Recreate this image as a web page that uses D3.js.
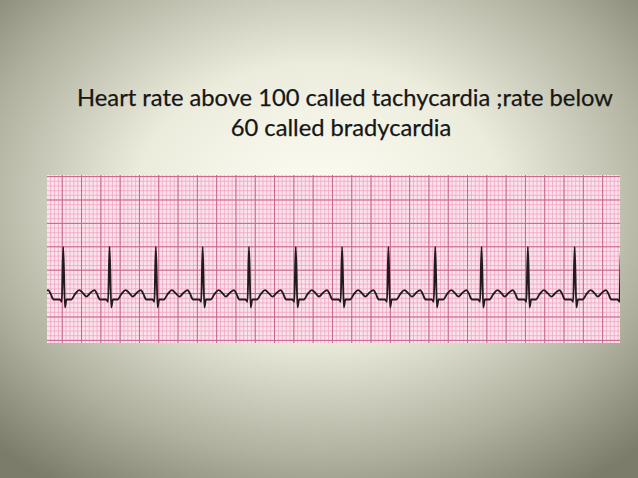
<!DOCTYPE html>
<html>
<head>
<meta charset="utf-8">
<script src="https://cdn.jsdelivr.net/npm/d3@7"></script>
<style>
  html, body { margin: 0; padding: 0; overflow: hidden; }
  svg { display: block; }
</style>
</head>
<body>
<script>
// title lines
const titleLines = ["Heart rate above 100 called tachycardia ;rate below", "60 called bradycardia"];

// R peak times (s) along the strip
const beatTimes = [0.01, 0.49, 0.97, 1.455, 1.935, 2.42, 2.90, 3.38, 3.865, 4.345, 4.825, 5.31, 5.79];

// one beat, offsets from the R peak (s) and amplitude (mV above isoelectric line)
const waveOffsets = [-0.24, -0.20, -0.155, -0.13, -0.10, -0.035, -0.015, 0, 0.018, 0.034, 0.083, 0.124, 0.166, 0.207];
const waveMv = [0.06, 0.14, 0.20, 0.12, 0.0, 0.0, -0.05, 1.13, -0.17, 0.0, 0.0, 0.12, 0.20, 0.13];

// paper: visible time window (s) and voltage window (mV), isoelectric level on paper
const timeWindow = [-0.158, 5.78];
const voltWindow = [-1.056, 2.534];
const isoLevel = -0.126;

var w = 638, h = 478;

var svg = d3.select("body").append("svg")
    .attr("width", w)
    .attr("height", h);

var defs = svg.append("defs");
var grad = defs.append("radialGradient")
    .attr("id", "bg")
    .attr("cx", "50%").attr("cy", "42%")
    .attr("r", "72%");
grad.append("stop").attr("offset", "0%").attr("stop-color", "#fdfdf4");
grad.append("stop").attr("offset", "40%").attr("stop-color", "#ececdd");
grad.append("stop").attr("offset", "75%").attr("stop-color", "#b0b09f");
grad.append("stop").attr("offset", "100%").attr("stop-color", "#7c7c6b");

svg.append("rect")
    .attr("width", w).attr("height", h)
    .attr("fill", "url(#bg)");

// title, fitted to the measured width
var title = svg.append("g")
    .attr("font-family", "Lato, 'Open Sans', sans-serif")
    .attr("fill", "#161616")
    .attr("text-anchor", "middle");

var t1 = title.append("text")
    .attr("x", 345).attr("y", 106)
    .attr("font-size", 22)
    .text(titleLines[0]);
var fs = 22 * 536 / t1.node().getComputedTextLength();
t1.attr("font-size", fs);
title.append("text")
    .attr("x", 341).attr("y", 136)
    .attr("font-size", fs)
    .text(titleLines[1]);
title.selectAll("text")
    .attr("stroke", "#161616").attr("stroke-width", 0.25);

// ECG strip
var x = d3.scaleLinear().domain(timeWindow).range([47, 620]);
var y = d3.scaleLinear().domain(voltWindow).range([343, 175]);

defs.append("clipPath").attr("id", "strip")
  .append("rect")
    .attr("x", x.range()[0]).attr("y", y.range()[1])
    .attr("width", x.range()[1] - x.range()[0])
    .attr("height", y.range()[0] - y.range()[1]);

var paper = svg.append("g").attr("clip-path", "url(#strip)");

paper.append("rect")
    .attr("x", x.range()[0]).attr("y", y.range()[1])
    .attr("width", x.range()[1] - x.range()[0])
    .attr("height", y.range()[0] - y.range()[1])
    .attr("fill", "#fbe3ec");

function steps(domain, step) {
  var out = [];
  var k0 = Math.ceil(domain[0] / step - 1e-6), k1 = Math.floor(domain[1] / step + 1e-6);
  for (var k = k0; k <= k1; k++) out.push(+(k * step).toFixed(4));
  return out;
}

var minorT = steps(timeWindow, 0.04), minorV = steps(voltWindow, 0.1);
var majorT = steps(timeWindow, 0.2), majorV = steps(voltWindow, 0.5);

paper.append("g").selectAll("line").data(minorT).enter().append("line")
    .attr("x1", d => x(d)).attr("x2", d => x(d))
    .attr("y1", y.range()[1]).attr("y2", y.range()[0])
    .attr("stroke", "#efa6c2").attr("stroke-width", 0.8);
paper.append("g").selectAll("line").data(minorV).enter().append("line")
    .attr("y1", d => y(d)).attr("y2", d => y(d))
    .attr("x1", x.range()[0]).attr("x2", x.range()[1])
    .attr("stroke", "#efa6c2").attr("stroke-width", 0.8);
paper.append("g").selectAll("line").data(majorT).enter().append("line")
    .attr("x1", d => x(d)).attr("x2", d => x(d))
    .attr("y1", y.range()[1]).attr("y2", y.range()[0])
    .attr("stroke", "#c9648c").attr("stroke-width", 1);
paper.append("g").selectAll("line").data(majorV).enter().append("line")
    .attr("y1", d => y(d)).attr("y2", d => y(d))
    .attr("x1", x.range()[0]).attr("x2", x.range()[1])
    .attr("stroke", "#c9648c").attr("stroke-width", 1);

// trace
var pts = [];
beatTimes.forEach(function(r) {
  waveOffsets.forEach(function(o, i) {
    pts.push([r + o, waveMv[i]]);
  });
});
pts.sort((a, b) => a[0] - b[0]);

var line = d3.line()
    .x(d => x(d[0]))
    .y(d => y(isoLevel + d[1]))
    .curve(d3.curveMonotoneX);

paper.append("path")
    .datum(pts)
    .attr("d", line)
    .attr("fill", "none")
    .attr("stroke", "#231a1e")
    .attr("stroke-width", 1.9)
    .attr("stroke-linejoin", "round");
</script>
</body>
</html>
